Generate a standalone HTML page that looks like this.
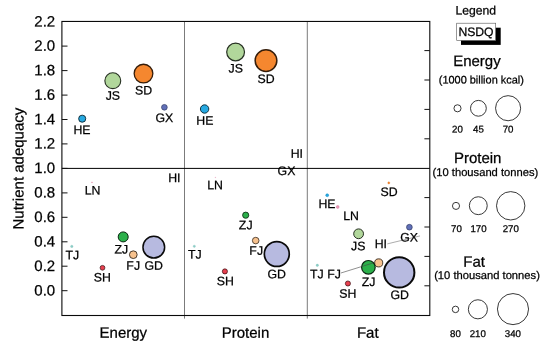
<!DOCTYPE html>
<html><head><meta charset="utf-8"><title>Nutrient adequacy</title>
<style>html,body{margin:0;padding:0;background:#fff}svg{display:block}text{font-family:"Liberation Sans",Arial,sans-serif;fill:#000;stroke:#000;stroke-width:0.25px}</style>
</head><body>
<svg width="550" height="343" viewBox="0 0 550 343">
<rect width="550" height="343" fill="#fff"/>
<line x1="184.5" y1="21.7" x2="184.5" y2="318.6" stroke="#333" stroke-width="0.65"/>
<line x1="307.3" y1="21.7" x2="307.3" y2="318.6" stroke="#333" stroke-width="0.65"/>
<line x1="61.9" y1="168.4" x2="429.8" y2="168.4" stroke="#000" stroke-width="1"/>
<rect x="61.9" y="21.45" width="367.9" height="294.05" fill="none" stroke="#0a0a0a" stroke-width="1.1"/>
<line x1="61.9" y1="290.7" x2="67.5" y2="290.7" stroke="#111" stroke-width="1"/>
<line x1="61.9" y1="266.2" x2="67.5" y2="266.2" stroke="#111" stroke-width="1"/>
<line x1="61.9" y1="241.8" x2="67.5" y2="241.8" stroke="#111" stroke-width="1"/>
<line x1="61.9" y1="217.3" x2="67.5" y2="217.3" stroke="#111" stroke-width="1"/>
<line x1="61.9" y1="192.9" x2="67.5" y2="192.9" stroke="#111" stroke-width="1"/>
<line x1="61.9" y1="168.4" x2="67.5" y2="168.4" stroke="#111" stroke-width="1"/>
<line x1="61.9" y1="143.9" x2="67.5" y2="143.9" stroke="#111" stroke-width="1"/>
<line x1="61.9" y1="119.5" x2="67.5" y2="119.5" stroke="#111" stroke-width="1"/>
<line x1="61.9" y1="95.1" x2="67.5" y2="95.1" stroke="#111" stroke-width="1"/>
<line x1="61.9" y1="70.6" x2="67.5" y2="70.6" stroke="#111" stroke-width="1"/>
<line x1="61.9" y1="46.1" x2="67.5" y2="46.1" stroke="#111" stroke-width="1"/>
<text transform="translate(55.2,295.4) rotate(0.03)" font-size="15.0" text-anchor="end">0.0</text>
<text transform="translate(55.2,270.9) rotate(0.03)" font-size="15.0" text-anchor="end">0.2</text>
<text transform="translate(55.2,246.4) rotate(0.03)" font-size="15.0" text-anchor="end">0.4</text>
<text transform="translate(55.2,222.0) rotate(0.03)" font-size="15.0" text-anchor="end">0.6</text>
<text transform="translate(55.2,197.6) rotate(0.03)" font-size="15.0" text-anchor="end">0.8</text>
<text transform="translate(55.2,173.1) rotate(0.03)" font-size="15.0" text-anchor="end">1.0</text>
<text transform="translate(55.2,148.6) rotate(0.03)" font-size="15.0" text-anchor="end">1.2</text>
<text transform="translate(55.2,124.2) rotate(0.03)" font-size="15.0" text-anchor="end">1.4</text>
<text transform="translate(55.2,99.8) rotate(0.03)" font-size="15.0" text-anchor="end">1.6</text>
<text transform="translate(55.2,75.3) rotate(0.03)" font-size="15.0" text-anchor="end">1.8</text>
<text transform="translate(55.2,50.8) rotate(0.03)" font-size="15.0" text-anchor="end">2.0</text>
<text transform="translate(55.2,26.4) rotate(0.03)" font-size="15.0" text-anchor="end">2.2</text>
<line x1="424.40000000000003" y1="50.6" x2="429.8" y2="50.6" stroke="#111" stroke-width="1"/>
<line x1="424.40000000000003" y1="80.0" x2="429.8" y2="80.0" stroke="#111" stroke-width="1"/>
<line x1="424.40000000000003" y1="109.4" x2="429.8" y2="109.4" stroke="#111" stroke-width="1"/>
<line x1="424.40000000000003" y1="138.8" x2="429.8" y2="138.8" stroke="#111" stroke-width="1"/>
<line x1="424.40000000000003" y1="197.6" x2="429.8" y2="197.6" stroke="#111" stroke-width="1"/>
<line x1="424.40000000000003" y1="227.0" x2="429.8" y2="227.0" stroke="#111" stroke-width="1"/>
<line x1="424.40000000000003" y1="256.4" x2="429.8" y2="256.4" stroke="#111" stroke-width="1"/>
<line x1="424.40000000000003" y1="285.8" x2="429.8" y2="285.8" stroke="#111" stroke-width="1"/>
<text transform="translate(23.5,168.6) rotate(-89.97)" font-size="15" text-anchor="middle">Nutrient adequacy</text>
<text transform="translate(123.3,337.7) rotate(0.03)" font-size="15" text-anchor="middle">Energy</text>
<text transform="translate(245.5,337.7) rotate(0.03)" font-size="15" text-anchor="middle">Protein</text>
<text transform="translate(367.8,337.7) rotate(0.03)" font-size="15" text-anchor="middle">Fat</text>
<circle cx="82.2" cy="118.7" r="3.55" fill="#27a9e1" stroke="#082531" stroke-width="0.9"/>
<circle cx="112.8" cy="80.7" r="7.95" fill="#b1d79b" stroke="#262f22" stroke-width="1.1"/>
<circle cx="143.5" cy="73.6" r="9.35" fill="#f5872f" stroke="#351d0a" stroke-width="1.3"/>
<circle cx="164.4" cy="107.3" r="2.85" fill="#6170b8" stroke="#353d65" stroke-width="0.7"/>
<circle cx="92" cy="182.4" r="0.60" fill="#e89ab8" stroke="#d77fa3" stroke-width="0.2"/>
<circle cx="71.8" cy="246.4" r="1.20" fill="#8ccfc8" stroke="#6fb9b0" stroke-width="0.3"/>
<circle cx="102.5" cy="267.8" r="2.40" fill="#e8404f" stroke="#330e11" stroke-width="0.7"/>
<circle cx="123.2" cy="236.9" r="5.00" fill="#2bb04a" stroke="#092610" stroke-width="1.0"/>
<circle cx="133.3" cy="254.7" r="3.85" fill="#f7c28e" stroke="#362a1f" stroke-width="0.9"/>
<circle cx="153.8" cy="247.2" r="10.85" fill="#b7bae0" stroke="#0a0a0a" stroke-width="1.5"/>
<circle cx="204.6" cy="109" r="4.20" fill="#27a9e1" stroke="#082531" stroke-width="0.9"/>
<circle cx="235.6" cy="52.0" r="8.90" fill="#b1d79b" stroke="#262f22" stroke-width="1.2"/>
<circle cx="266.0" cy="60.6" r="10.85" fill="#f5872f" stroke="#351d0a" stroke-width="1.5"/>
<circle cx="215.3" cy="177.5" r="0.40" fill="#e89ab8" stroke="#d77fa3" stroke-width="0.2"/>
<circle cx="245.7" cy="215.2" r="3.10" fill="#2bb04a" stroke="#092610" stroke-width="0.8"/>
<circle cx="255.7" cy="240.6" r="3.30" fill="#f7c28e" stroke="#362a1f" stroke-width="0.8"/>
<circle cx="276.8" cy="254.0" r="12.45" fill="#b7bae0" stroke="#0a0a0a" stroke-width="1.7"/>
<circle cx="194.3" cy="246.3" r="1.15" fill="#8ccfc8" stroke="#6fb9b0" stroke-width="0.3"/>
<circle cx="224.9" cy="271.4" r="2.55" fill="#e8404f" stroke="#330e11" stroke-width="0.7"/>
<circle cx="327.2" cy="195.3" r="1.45" fill="#27a9e1" stroke="#1b8fc4" stroke-width="0.5"/>
<circle cx="337.7" cy="207" r="1.45" fill="#e89ab8" stroke="#d77fa3" stroke-width="0.5"/>
<circle cx="388.8" cy="182.9" r="1.05" fill="#f5872f" stroke="#d96a17" stroke-width="0.3"/>
<circle cx="409.4" cy="227.2" r="2.85" fill="#6170b8" stroke="#353d65" stroke-width="0.7"/>
<circle cx="358.6" cy="233.8" r="4.90" fill="#b1d79b" stroke="#262f22" stroke-width="1.0"/>
<circle cx="419.7" cy="236" r="0.35" fill="#aaa" stroke="#999" stroke-width="0.1"/>
<circle cx="378.7" cy="262.9" r="4.05" fill="#f7c28e" stroke="#362a1f" stroke-width="0.9"/>
<circle cx="368.4" cy="267.3" r="6.80" fill="#2bb04a" stroke="#092610" stroke-width="1.2"/>
<circle cx="317.3" cy="265.3" r="1.20" fill="#8ccfc8" stroke="#6fb9b0" stroke-width="0.3"/>
<circle cx="347.9" cy="283.5" r="2.55" fill="#e8404f" stroke="#330e11" stroke-width="0.7"/>
<circle cx="399.2" cy="272.4" r="15.20" fill="#b7bae0" stroke="#0a0a0a" stroke-width="2.0"/>
<line x1="340.9" y1="273.0" x2="373" y2="263.0" stroke="#444" stroke-width="0.6"/>
<line x1="387.3" y1="243.9" x2="419.7" y2="236" stroke="#666" stroke-width="0.55"/>
<text transform="translate(82,133.9) rotate(0.03)" font-size="12.3" text-anchor="middle">HE</text>
<text transform="translate(112.8,99.8) rotate(0.03)" font-size="12.3" text-anchor="middle">JS</text>
<text transform="translate(143.6,94.4) rotate(0.03)" font-size="12.3" text-anchor="middle">SD</text>
<text transform="translate(164.4,122.0) rotate(0.03)" font-size="12.3" text-anchor="middle">GX</text>
<text transform="translate(174.3,181.9) rotate(0.03)" font-size="12.3" text-anchor="middle">HI</text>
<text transform="translate(92.5,194.5) rotate(0.03)" font-size="12.3" text-anchor="middle">LN</text>
<text transform="translate(72.4,259.3) rotate(0.03)" font-size="12.3" text-anchor="middle">TJ</text>
<text transform="translate(102.4,281.6) rotate(0.03)" font-size="12.3" text-anchor="middle">SH</text>
<text transform="translate(121.4,253.5) rotate(0.03)" font-size="12.3" text-anchor="middle">ZJ</text>
<text transform="translate(133.2,269.8) rotate(0.03)" font-size="12.3" text-anchor="middle">FJ</text>
<text transform="translate(153.6,269.8) rotate(0.03)" font-size="12.3" text-anchor="middle">GD</text>
<text transform="translate(204.9,124.8) rotate(0.03)" font-size="12.3" text-anchor="middle">HE</text>
<text transform="translate(235.7,72.5) rotate(0.03)" font-size="12.3" text-anchor="middle">JS</text>
<text transform="translate(266,83.1) rotate(0.03)" font-size="12.3" text-anchor="middle">SD</text>
<text transform="translate(296.9,157.7) rotate(0.03)" font-size="12.3" text-anchor="middle">HI</text>
<text transform="translate(286.5,174.9) rotate(0.03)" font-size="12.3" text-anchor="middle">GX</text>
<text transform="translate(215,189.2) rotate(0.03)" font-size="12.3" text-anchor="middle">LN</text>
<text transform="translate(245.7,229.3) rotate(0.03)" font-size="12.3" text-anchor="middle">ZJ</text>
<text transform="translate(256.2,254.8) rotate(0.03)" font-size="12.3" text-anchor="middle">FJ</text>
<text transform="translate(276.6,278.3) rotate(0.03)" font-size="12.3" text-anchor="middle">GD</text>
<text transform="translate(194.9,258.5) rotate(0.03)" font-size="12.3" text-anchor="middle">TJ</text>
<text transform="translate(225.3,285.3) rotate(0.03)" font-size="12.3" text-anchor="middle">SH</text>
<text transform="translate(327,207.9) rotate(0.03)" font-size="12.3" text-anchor="middle">HE</text>
<text transform="translate(351,220.1) rotate(0.03)" font-size="12.3" text-anchor="middle">LN</text>
<text transform="translate(389,196) rotate(0.03)" font-size="12.3" text-anchor="middle">SD</text>
<text transform="translate(409.2,241.5) rotate(0.03)" font-size="12.3" text-anchor="middle">GX</text>
<text transform="translate(358.2,250.3) rotate(0.03)" font-size="12.3" text-anchor="middle">JS</text>
<text transform="translate(380.8,247.9) rotate(0.03)" font-size="12.3" text-anchor="middle">HI</text>
<text transform="translate(334,278.3) rotate(0.03)" font-size="12.3" text-anchor="middle">FJ</text>
<text transform="translate(368.6,286.1) rotate(0.03)" font-size="12.3" text-anchor="middle">ZJ</text>
<text transform="translate(316.8,278.3) rotate(0.03)" font-size="12.3" text-anchor="middle">TJ</text>
<text transform="translate(347.8,297.7) rotate(0.03)" font-size="12.3" text-anchor="middle">SH</text>
<text transform="translate(399.6,299.1) rotate(0.03)" font-size="12.3" text-anchor="middle">GD</text>
<text transform="translate(475.8,14.5) rotate(0.03)" font-size="12.2" text-anchor="middle" stroke-width="0.1">Legend</text>
<rect x="461" y="27.7" width="39.7" height="17.2" fill="#000"/>
<rect x="456.7" y="23.2" width="39" height="17.3" fill="#fff" stroke="#555" stroke-width="0.6"/>
<text transform="translate(476,36) rotate(0.03)" font-size="12.2" text-anchor="middle" stroke-width="0.15">NSDQ</text>
<text transform="translate(476.9,65.9) rotate(0.03)" font-size="15" text-anchor="middle" stroke-width="0.15">Energy</text>
<text transform="translate(481.3,83.4) rotate(0.03)" font-size="10.95" text-anchor="middle" stroke-width="0.08">(1000 billion kcal)</text>
<circle cx="457.5" cy="108.3" r="3.55" fill="#fff" stroke="#222" stroke-width="0.9"/>
<circle cx="478.4" cy="108.3" r="7.90" fill="#fff" stroke="#222" stroke-width="0.9"/>
<circle cx="508.1" cy="108.2" r="12.55" fill="#fff" stroke="#222" stroke-width="0.9"/>
<text transform="translate(457.5,132.6) rotate(0.03)" font-size="9.7" text-anchor="middle" stroke-width="0.05">20</text>
<text transform="translate(478.5,132.6) rotate(0.03)" font-size="9.7" text-anchor="middle" stroke-width="0.05">45</text>
<text transform="translate(508.1,132.6) rotate(0.03)" font-size="9.7" text-anchor="middle" stroke-width="0.05">70</text>
<text transform="translate(477.7,163.1) rotate(0.03)" font-size="15" text-anchor="middle" stroke-width="0.15">Protein</text>
<text transform="translate(485.4,176.1) rotate(0.03)" font-size="11.2" text-anchor="middle" stroke-width="0.08">(10 thousand tonnes)</text>
<circle cx="456" cy="205.9" r="3.55" fill="#fff" stroke="#222" stroke-width="0.9"/>
<circle cx="478.3" cy="205.7" r="8.95" fill="#fff" stroke="#222" stroke-width="0.9"/>
<circle cx="510.7" cy="205.8" r="14.20" fill="#fff" stroke="#222" stroke-width="0.9"/>
<text transform="translate(456.5,232.1) rotate(0.03)" font-size="9.7" text-anchor="middle" stroke-width="0.05">70</text>
<text transform="translate(478.5,232.1) rotate(0.03)" font-size="9.7" text-anchor="middle" stroke-width="0.05">170</text>
<text transform="translate(510.8,232.1) rotate(0.03)" font-size="9.7" text-anchor="middle" stroke-width="0.05">270</text>
<text transform="translate(474.2,266.8) rotate(0.03)" font-size="15" text-anchor="middle" stroke-width="0.15">Fat</text>
<text transform="translate(487,279.0) rotate(0.03)" font-size="11.2" text-anchor="middle" stroke-width="0.08">(10 thousand tonnes)</text>
<circle cx="455.5" cy="309.4" r="3.25" fill="#fff" stroke="#222" stroke-width="0.9"/>
<circle cx="477.9" cy="309.3" r="9.55" fill="#fff" stroke="#222" stroke-width="0.9"/>
<circle cx="513" cy="309.1" r="15.55" fill="#fff" stroke="#222" stroke-width="0.9"/>
<text transform="translate(455.5,337.1) rotate(0.03)" font-size="9.7" text-anchor="middle" stroke-width="0.05">80</text>
<text transform="translate(477.8,337.1) rotate(0.03)" font-size="9.7" text-anchor="middle" stroke-width="0.05">210</text>
<text transform="translate(512.9,337.1) rotate(0.03)" font-size="9.7" text-anchor="middle" stroke-width="0.05">340</text>
</svg></body></html>
